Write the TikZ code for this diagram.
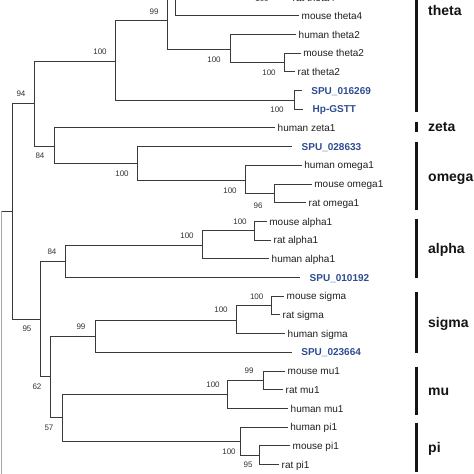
\documentclass[tikz,border=0pt]{standalone}
\usepackage{fontspec}
\setmainfont{Liberation Sans}
\usepackage{tikz}
\usetikzlibrary{positioning,calc}
\definecolor{treegray}{HTML}{3A3A3A}
\definecolor{spublue}{HTML}{2E4C92}
\newcommand\leaffont{\fontsize{10}{12}\selectfont}
\newcommand\spufont{\fontsize{10}{12}\selectfont\bfseries}
\newcommand\bootfont{\fontsize{8}{9}\selectfont}
\newcommand\cladefont{\fontsize{14}{16}\selectfont\bfseries}
\tikzset{
  br/.style     = {line width=0.9pt, draw=treegray},
  rootbr/.style = {line width=1.3pt, draw=black!35},
  leaf/.style   = {anchor=west, inner xsep=2.5pt, inner ysep=0pt, font=\leaffont,
                   text=black!88, text height=7.2pt, text depth=0pt},
  spu/.style    = {leaf, inner xsep=9.5pt, font=\spufont, text=spublue},
  boot/.style   = {inner sep=0pt, font=\bootfont, text=black!80},
  bar/.style    = {line width=2.8pt, draw=black!92},
  clade/.style  = {anchor=west, inner sep=0pt, font=\cladefont, text=black!92,
                   text height=10pt, text depth=0pt},
}

\begin{document}
\begin{tikzpicture}[x=1pt,y=-1pt]
  \useasboundingbox (0,0) rectangle (474,474);
  \clip (0,0) rectangle (474,474);
  % inner nodes of the tree (x = depth, y = middle of the children)
  \coordinate (root) at (1.5,211);
  \coordinate (cut)  at (1.5,480);
  \coordinate (nA) at (12,211);
  \coordinate (nB) at (34,103);
  \coordinate (nC) at (115,61);
  \coordinate (nE) at (167,20.7);
  \coordinate (nT4) at (175,-8);
  \coordinate (nF) at (230,49.3);
  \coordinate (nG) at (284,62.7);
  \coordinate (nH) at (294,100.7);
  \coordinate (nD) at (54,146);
  \coordinate (nI) at (137,163.3);
  \coordinate (nJ) at (245.7,180);
  \coordinate (nK) at (274,193.3);
  \coordinate (nL) at (40,319);
  \coordinate (nM) at (65.7,261.7);
  \coordinate (nO) at (202.3,245.7);
  \coordinate (nP) at (254.7,230.7);
  \coordinate (nN) at (50,376.7);
  \coordinate (nQ) at (95,336);
  \coordinate (nS) at (236.7,320);
  \coordinate (nT) at (271.7,305.5);
  \coordinate (nMP) at (62.3,417.7);
  \coordinate (nU) at (227.7,394.3);
  \coordinate (nW) at (263.3,380.4);
  \coordinate (nV) at (240,441);
  \coordinate (nX) at (259.3,455.2);
  % leaves
  \node[leaf] (rth4) at (290,-2) {rat theta4};
  \node[leaf] (mth4) at (299,15.7) {mouse theta4};
  \node[leaf] (hth2) at (296,34.4) {human theta2};
  \node[leaf] (mth2) at (300.7,53.1) {mouse theta2};
  \node[leaf] (rth2) at (295,71.8) {rat theta2};
  \node[spu]  (s16)  at (301.7,90.5) {SPU\_016269};
  \node[spu]  (hpg)  at (303,109.2) {Hp-GSTT};
  \node[leaf] (hz1)  at (275,127.9) {human zeta1};
  \node[spu]  (s28)  at (292,146.6) {SPU\_028633};
  \node[leaf] (ho1)  at (301.7,165.3) {human omega1};
  \node[leaf] (mo1)  at (311.7,184) {mouse omega1};
  \node[leaf] (ro1)  at (306,202.7) {rat omega1};
  \node[leaf] (ma1)  at (266.7,221.4) {mouse alpha1};
  \node[leaf] (ra1)  at (271,240.1) {rat alpha1};
  \node[leaf] (ha1)  at (269,258.8) {human alpha1};
  \node[spu]  (s10)  at (300,277.5) {SPU\_010192};
  \node[leaf] (ms)   at (284,296.2) {mouse sigma};
  \node[leaf] (rs)   at (280,314.9) {rat sigma};
  \node[leaf] (hs)   at (285,333.6) {human sigma};
  \node[spu]  (s23)  at (291.7,352.3) {SPU\_023664};
  \node[leaf] (mm1)  at (285,371) {mouse mu1};
  \node[leaf] (rm1)  at (283,389.7) {rat mu1};
  \node[leaf] (hm1)  at (288,408.4) {human mu1};
  \node[leaf] (hp1)  at (287.7,427.1) {human pi1};
  \node[leaf] (mp1)  at (290,445.8) {mouse pi1};
  \node[leaf] (rp1)  at (279,464.5) {rat pi1};
  % branches
  \draw[rootbr] (root) -- (cut);
  \draw[br] (root) -- (nA);
  \draw[br] (nA) |- (nB);  \draw[br] (nA) |- (nL);
  \draw[br] (nB) |- (nC);  \draw[br] (nB) |- (nD);
  \draw[br] (nC) |- (nE);  \draw[br] (nC) |- (nH);
  \draw[br] (nE) |- (nT4); \draw[br] (nE) |- (nF);
  \draw[br] (nT4) |- (rth4.west); \draw[br] (nT4) |- (mth4.west);
  \draw[br] (nF) |- (hth2.west);  \draw[br] (nF) |- (nG);
  \draw[br] (nG) |- (mth2.west);  \draw[br] (nG) |- (rth2.west);
  \draw[br] (nH) |- (s16.west);   \draw[br] (nH) |- (hpg.west);
  \draw[br] (nD) |- (hz1.west);   \draw[br] (nD) |- (nI);
  \draw[br] (nI) |- (s28.west);   \draw[br] (nI) |- (nJ);
  \draw[br] (nJ) |- (ho1.west);   \draw[br] (nJ) |- (nK);
  \draw[br] (nK) |- (mo1.west);   \draw[br] (nK) |- (ro1.west);
  \draw[br] (nL) |- (nM);  \draw[br] (nL) |- (nN);
  \draw[br] (nM) |- (nO);  \draw[br] (nM) |- (s10.west);
  \draw[br] (nO) |- (nP);  \draw[br] (nO) |- (ha1.west);
  \draw[br] (nP) |- (ma1.west);   \draw[br] (nP) |- (ra1.west);
  \draw[br] (nN) |- (nQ);  \draw[br] (nN) |- (nMP);
  \draw[br] (nQ) |- (nS);  \draw[br] (nQ) |- (s23.west);
  \draw[br] (nS) |- (nT);  \draw[br] (nS) |- (hs.west);
  \draw[br] (nT) |- (ms.west);    \draw[br] (nT) |- (rs.west);
  \draw[br] (nMP) |- (nU); \draw[br] (nMP) |- (nV);
  \draw[br] (nU) |- (nW);  \draw[br] (nU) |- (hm1.west);
  \draw[br] (nW) |- (mm1.west);   \draw[br] (nW) |- (rm1.west);
  \draw[br] (nV) |- (hp1.west);   \draw[br] (nV) |- (nX);
  \draw[br] (nX) |- (mp1.west);   \draw[br] (nX) |- (rp1.west);
  % bootstrap values
  \node[boot] (b0)  at (262,-1) {100};
  \node[boot] (b1)  at (154,12) {99};
  \node[boot] (b2)  at (100,52) {100};
  \node[boot] (b3)  at (214,60) {100};
  \node[boot] (b4)  at (269,72.7) {100};
  \node[boot] (b5)  at (277,110) {100};
  \node[boot] (b6)  at (21,94) {94};
  \node[boot] (b7)  at (40,156) {84};
  \node[boot] (b8)  at (122,174) {100};
  \node[boot] (b9)  at (230,190.7) {100};
  \node[boot] (b10) at (258,205.7) {96};
  \node[boot] (b11) at (240,222) {100};
  \node[boot] (b12) at (187,236) {100};
  \node[boot] (b13) at (52,252) {84};
  \node[boot] (b14) at (256.7,296.7) {100};
  \node[boot] (b15) at (221,310) {100};
  \node[boot] (b16) at (27,329) {95};
  \node[boot] (b17) at (81,326.7) {99};
  \node[boot] (b18) at (37,387) {62};
  \node[boot] (b19) at (213,385) {100};
  \node[boot] (b20) at (249,371) {99};
  \node[boot] (b21) at (49,427.7) {57};
  \node[boot] (b22) at (229,452) {100};
  \node[boot] (b23) at (248,465) {95};
  % clade bars and names
  \draw[bar] (416.7,-2) -- (416.7,111.7);
  \node[clade] (cl-theta) at (428,10) {theta};
  \foreach \ya/\yb/\nm in {121.7/131.7/zeta, 142.3/210/omega, 219.3/278.3/alpha,
                           292.3/353.3/sigma, 366.7/415/mu, 422.7/471.7/pi}{
    \draw[bar] (416.7,\ya) -- (416.7,\yb);
    \node[clade] (cl-\nm) at (428,{(\ya+\yb)/2}) {\nm};
  }
\end{tikzpicture}
\end{document}
